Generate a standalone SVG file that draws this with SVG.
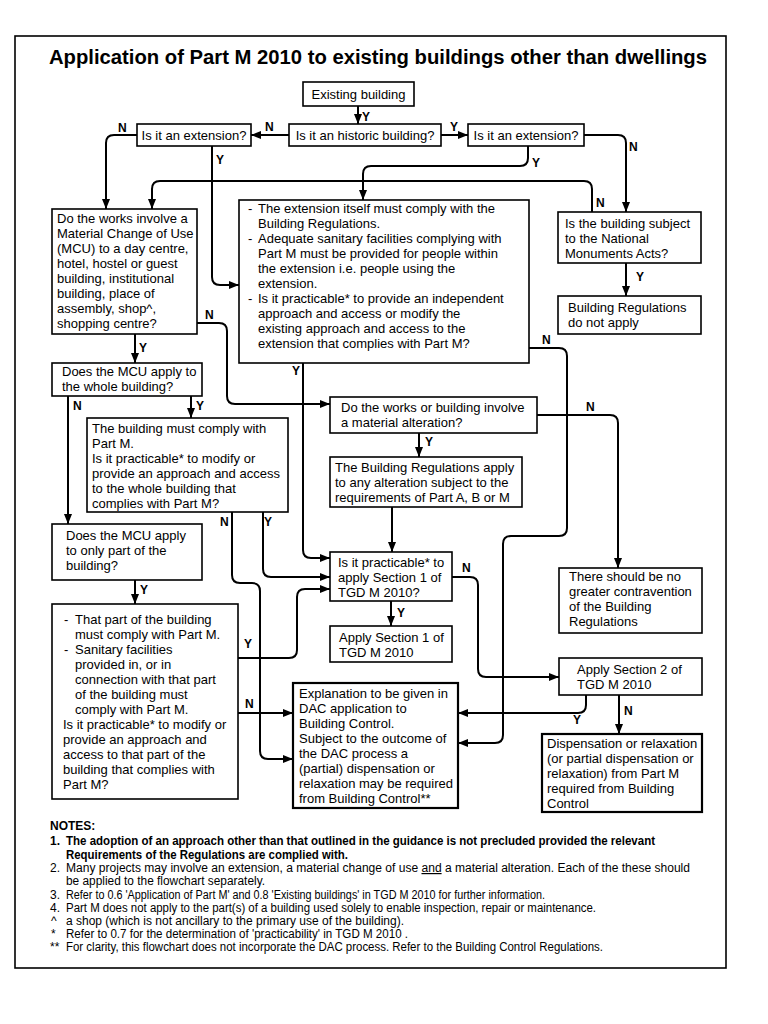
<svg xmlns="http://www.w3.org/2000/svg" width="768" height="1024" viewBox="0 0 768 1024">
<style>
.box{fill:#fff;stroke:#000;stroke-width:1.6}
.hb{fill:#fff;stroke:#000;stroke-width:2.2}
text{font-family:"Liberation Sans",Arial,Helvetica,sans-serif;fill:#000}
.t{font-size:13px}
.m{font-size:13px;text-anchor:middle}
.l{font-size:12px;font-weight:bold}
.n{font-size:12px}
.nb{font-size:12px;font-weight:bold}
.c{fill:none;stroke:#000;stroke-width:2;marker-end:url(#ah)}
</style>
<defs>
<marker id="ah" markerWidth="10" markerHeight="8" refX="10" refY="4" orient="auto" markerUnits="userSpaceOnUse"><path d="M0,0 L10,4 L0,8 z" fill="#000"/></marker>
</defs>
<rect x="0" y="0" width="768" height="1024" fill="#fff"/>
<rect x="15" y="36" width="711" height="932" fill="none" stroke="#000" stroke-width="1.6"/>
<text x="49" y="64" font-size="20" font-weight="bold" textLength="658" lengthAdjust="spacingAndGlyphs">Application of Part M 2010 to existing buildings other than dwellings</text>

<g id="connectors">
<path class="c" d="M358,106 V124"/>
<path class="c" d="M289,135 H251"/>
<path class="c" d="M441,135 H468"/>
<path class="c" d="M137,135 H114 Q106,135 106,143 V209"/>
<path class="c" d="M212,146 V277 Q212,285 220,285 H239"/>
<path class="c" d="M528,146 V158 Q528,166 520,166 H371 Q363,166 363,174 V200"/>
<path class="c" d="M584,135 H618 Q626,135 626,143 V212"/>
<path class="c" d="M592,212 V189 Q592,181 584,181 H160 Q152,181 152,189 V209"/>
<path class="c" d="M626,263 V296"/>
<path class="c" d="M529,348 H559 Q567,348 567,356 V528 Q567,536 559,536 H511 Q503,536 503,544 V735 Q503,743 495,743 H458"/>
<path class="c" d="M303,363 V550 Q303,558 311,558 H330"/>
<path class="c" d="M197,323 H219 Q227,323 227,331 V396 Q227,404 235,404 H330"/>
<path class="c" d="M537,415 H610 Q618,415 618,423 V568"/>
<path class="c" d="M419,433 V457"/>
<path class="c" d="M392,507 V552"/>
<path class="c" d="M391,601 V626"/>
<path class="c" d="M452,577 H470 Q478,577 478,585 V669 Q478,677 486,677 H559"/>
<path class="c" d="M135,334 V363"/>
<path class="c" d="M68,396 V524"/>
<path class="c" d="M191,396 V418"/>
<path class="c" d="M263,512 V569 Q263,577 271,577 H330"/>
<path class="c" d="M232,512 V575 Q232,583 240,583 H252 Q260,583 260,591 V751 Q260,759 268,759 H293"/>
<path class="c" d="M135,580 V604"/>
<path class="c" d="M238,658 H289 Q297,658 297,650 V597 Q297,589 305,589 H330"/>
<path class="c" d="M238,713 H293"/>
<path class="c" d="M586,695 V705 Q586,713 578,713 H458"/>
<path class="c" d="M619,695 V734"/>
<text class="l" x="362" y="121">Y</text>
<text class="l" x="265" y="131">N</text>
<text class="l" x="450" y="131">Y</text>
<text class="l" x="118" y="132">N</text>
<text class="l" x="216" y="164">Y</text>
<text class="l" x="532" y="167">Y</text>
<text class="l" x="629" y="151">N</text>
<text class="l" x="596" y="207">N</text>
<text class="l" x="636" y="281">Y</text>
<text class="l" x="542" y="344">N</text>
<text class="l" x="292" y="375">Y</text>
<text class="l" x="205" y="319">N</text>
<text class="l" x="586" y="411">N</text>
<text class="l" x="425" y="446">Y</text>
<text class="l" x="397" y="617">Y</text>
<text class="l" x="462" y="572">N</text>
<text class="l" x="139" y="352">Y</text>
<text class="l" x="73" y="410">N</text>
<text class="l" x="196" y="410">Y</text>
<text class="l" x="264" y="526">Y</text>
<text class="l" x="220" y="526">N</text>
<text class="l" x="140" y="594">Y</text>
<text class="l" x="244" y="648">Y</text>
<text class="l" x="245" y="708">N</text>
<text class="l" x="573" y="724">Y</text>
<text class="l" x="624" y="715">N</text>
</g>

<g id="existing">
<rect class="box" x="303" y="82" width="111" height="24"/>
<text class="m" x="358.5" y="99">Existing building</text>
</g>
<g id="historic">
<rect class="box" x="289" y="124" width="152" height="22"/>
<text class="m" x="365" y="140">Is it an historic building?</text>
</g>
<g id="ext-left">
<rect class="box" x="137" y="124" width="114" height="22"/>
<text class="m" x="194" y="140">Is it an extension?</text>
</g>
<g id="ext-right">
<rect class="box" x="468" y="124" width="116" height="22"/>
<text class="m" x="526" y="140">Is it an extension?</text>
</g>

<g id="mcu">
<rect class="box" x="52" y="209" width="145" height="125"/>
<text class="t" x="57" y="222.5">Do the works involve a</text>
<text class="t" x="57" y="237.5">Material Change of Use</text>
<text class="t" x="57" y="252.5">(MCU) to a day centre,</text>
<text class="t" x="57" y="267.5">hotel, hostel or guest</text>
<text class="t" x="57" y="282.5">building, institutional</text>
<text class="t" x="57" y="297.5">building, place of</text>
<text class="t" x="57" y="312.5">assembly, shop^,</text>
<text class="t" x="57" y="327.5">shopping centre?</text>
</g>

<g id="extension">
<rect class="box" x="239" y="200" width="290" height="163"/>
<text class="t" x="248" y="212.5">-</text>
<text class="t" x="258" y="212.5">The extension itself must comply with the</text>
<text class="t" x="258" y="227.5">Building Regulations.</text>
<text class="t" x="248" y="242.5">-</text>
<text class="t" x="258" y="242.5">Adequate sanitary facilities complying with</text>
<text class="t" x="258" y="257.5">Part M must be provided for people within</text>
<text class="t" x="258" y="272.5">the extension i.e. people using the</text>
<text class="t" x="258" y="287.5">extension.</text>
<text class="t" x="248" y="302.5">-</text>
<text class="t" x="258" y="302.5">Is it practicable* to provide an independent</text>
<text class="t" x="258" y="317.5">approach and access or modify the</text>
<text class="t" x="258" y="332.5">existing approach and access to the</text>
<text class="t" x="258" y="347.5">extension that complies with Part M?</text>
</g>

<g id="monuments">
<rect class="box" x="558" y="212" width="143" height="51"/>
<text class="t" x="565" y="227.5">Is the building subject</text>
<text class="t" x="565" y="242.5">to the National</text>
<text class="t" x="565" y="257.5">Monuments Acts?</text>
</g>
<g id="not-apply">
<rect class="box" x="558" y="296" width="143" height="38"/>
<text class="t" x="568" y="311.5">Building Regulations</text>
<text class="t" x="568" y="326.5">do not apply</text>
</g>

<g id="whole">
<rect class="box" x="52" y="363" width="150" height="33"/>
<text class="t" x="62" y="376">Does the MCU apply to</text>
<text class="t" x="62" y="391">the whole building?</text>
</g>

<g id="must-comply">
<rect class="box" x="87" y="418" width="201" height="94"/>
<text class="t" x="92" y="432.5">The building must comply with</text>
<text class="t" x="92" y="447.5">Part M.</text>
<text class="t" x="92" y="462.5">Is it practicable* to modify or</text>
<text class="t" x="92" y="477.5">provide an approach and access</text>
<text class="t" x="92" y="492.5">to the whole building that</text>
<text class="t" x="92" y="507.5">complies with Part M?</text>
</g>

<g id="alteration">
<rect class="box" x="330" y="397" width="207" height="36"/>
<text class="t" x="341" y="411.5">Do the works or building involve</text>
<text class="t" x="341" y="426.5">a material alteration?</text>
</g>

<g id="regs-apply">
<rect class="box" x="330" y="457" width="192" height="50"/>
<text class="t" x="335" y="471.5">The Building Regulations apply</text>
<text class="t" x="335" y="486.5">to any alteration subject to the</text>
<text class="t" x="335" y="501.5">requirements of Part A, B or M</text>
</g>

<g id="only-part">
<rect class="box" x="52" y="524" width="150" height="56"/>
<text class="t" x="66" y="539.5">Does the MCU apply</text>
<text class="t" x="66" y="554.5">to only part of the</text>
<text class="t" x="66" y="569.5">building?</text>
</g>

<g id="practicable">
<rect class="box" x="330" y="552" width="122" height="49"/>
<text class="t" x="338" y="566.5">Is it practicable* to</text>
<text class="t" x="338" y="581.5">apply Section 1 of</text>
<text class="t" x="338" y="596.5">TGD M 2010?</text>
</g>

<g id="contravention">
<rect class="box" x="559" y="568" width="143" height="65"/>
<text class="t" x="569" y="580.5">There should be no</text>
<text class="t" x="569" y="595.5">greater contravention</text>
<text class="t" x="569" y="610.5">of the Building</text>
<text class="t" x="569" y="625.5">Regulations</text>
</g>

<g id="section1">
<rect class="box" x="330" y="626" width="122" height="36"/>
<text class="t" x="339" y="641.5">Apply Section 1 of</text>
<text class="t" x="339" y="656.5">TGD M 2010</text>
</g>

<g id="section2">
<rect class="box" x="559" y="658" width="143" height="37"/>
<text class="t" x="577" y="673.5">Apply Section 2 of</text>
<text class="t" x="577" y="688.5">TGD M 2010</text>
</g>

<g id="that-part">
<rect class="box" x="52" y="604" width="186" height="195"/>
<text class="t" x="64" y="623.5">-</text>
<text class="t" x="75" y="623.5">That part of the building</text>
<text class="t" x="75" y="638.5">must comply with Part M.</text>
<text class="t" x="64" y="653.5">-</text>
<text class="t" x="75" y="653.5">Sanitary facilities</text>
<text class="t" x="75" y="668.5">provided in, or in</text>
<text class="t" x="75" y="683.5">connection with that part</text>
<text class="t" x="75" y="698.5">of the building must</text>
<text class="t" x="75" y="713.5">comply with Part M.</text>
<text class="t" x="63" y="728.5">Is it practicable* to modify or</text>
<text class="t" x="63" y="743.5">provide an approach and</text>
<text class="t" x="63" y="758.5">access to that part of the</text>
<text class="t" x="63" y="773.5">building that complies with</text>
<text class="t" x="63" y="788.5">Part M?</text>
</g>

<g id="explanation">
<rect class="hb" x="293" y="683" width="165" height="125"/>
<text class="t" x="299" y="697.5">Explanation to be given in</text>
<text class="t" x="299" y="712.5">DAC application to</text>
<text class="t" x="299" y="727.5">Building Control.</text>
<text class="t" x="299" y="742.5">Subject to the outcome of</text>
<text class="t" x="299" y="757.5">the DAC process a</text>
<text class="t" x="299" y="772.5">(partial) dispensation or</text>
<text class="t" x="299" y="787.5">relaxation may be required</text>
<text class="t" x="299" y="802.5">from Building Control**</text>
</g>

<g id="dispensation">
<rect class="hb" x="542" y="734" width="160" height="78"/>
<text class="t" x="547" y="747.5">Dispensation or relaxation</text>
<text class="t" x="547" y="762.5">(or partial dispensation or</text>
<text class="t" x="547" y="777.5">relaxation) from Part M</text>
<text class="t" x="547" y="792.5">required from Building</text>
<text class="t" x="547" y="807.5">Control</text>
</g>

<g id="notes">
<text class="nb" x="50" y="830">NOTES:</text>
<text class="nb" x="50" y="845">1.</text>
<text class="nb" x="66" y="845" textLength="589" lengthAdjust="spacingAndGlyphs">The adoption of an approach other than that outlined in the guidance is not precluded provided the relevant</text>
<text class="nb" x="66" y="859" textLength="282" lengthAdjust="spacingAndGlyphs">Requirements of the Regulations are complied with.</text>
<text class="n" x="50" y="872">2.</text>
<text class="n" x="66" y="872" textLength="624" lengthAdjust="spacingAndGlyphs">Many projects may involve an extension, a material change of use <tspan text-decoration="underline">and</tspan> a material alteration.  Each of the these should</text>
<text class="n" x="66" y="885" textLength="199" lengthAdjust="spacingAndGlyphs">be applied to the flowchart separately.</text>
<text class="n" x="50" y="899">3.</text>
<text class="n" x="66" y="899" textLength="479" lengthAdjust="spacingAndGlyphs">Refer to 0.6 'Application of Part M' and 0.8 'Existing buildings' in TGD M 2010 for further information.</text>
<text class="n" x="50" y="912">4.</text>
<text class="n" x="66" y="912" textLength="530" lengthAdjust="spacingAndGlyphs">Part M does not apply to the part(s) of a building used solely to enable inspection, repair or maintenance.</text>
<text class="n" x="51" y="925">^</text>
<text class="n" x="66" y="925" textLength="338" lengthAdjust="spacingAndGlyphs">a shop (which is not ancillary to the primary use of the building).</text>
<text class="n" x="51" y="938">*</text>
<text class="n" x="66" y="938" textLength="342" lengthAdjust="spacingAndGlyphs">Refer to 0.7 for the determination of 'practicability' in TGD M 2010 .</text>
<text class="n" x="50" y="951">**</text>
<text class="n" x="66" y="951" textLength="537" lengthAdjust="spacingAndGlyphs">For clarity, this flowchart does not incorporate the DAC process.  Refer to the Building Control Regulations.</text>
</g>
</svg>
